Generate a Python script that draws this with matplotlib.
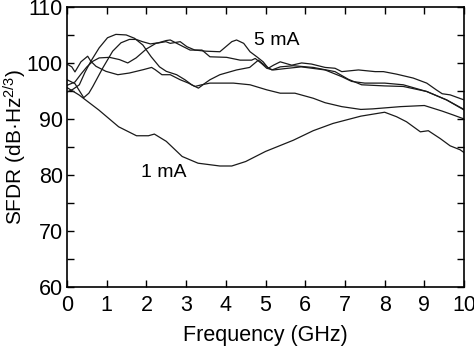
import matplotlib
matplotlib.use("Agg")
import matplotlib.pyplot as plt
from matplotlib.ticker import MultipleLocator

plt.rcParams["font.family"] = ["Liberation Sans", "DejaVu Sans"]
plt.rcParams["mathtext.default"] = "regular"

# SFDR traces (GHz, dB*Hz^2/3)
freq_1ma = [0, 0.3, 0.8, 1.3, 1.75, 2.05, 2.2, 2.5, 2.9, 3.3, 3.85, 4.15, 4.5, 5.0,
            5.7, 6.2, 6.7, 7.4, 8.0, 8.3, 8.55, 8.9, 9.1, 9.4, 9.65, 9.9, 10]
sfdr_1ma = [95.6, 94.3, 91.6, 88.6, 87.0, 87.0, 87.3, 86.0, 83.3, 82.1, 81.6, 81.6, 82.4, 84.2,
            86.2, 87.9, 89.2, 90.5, 91.2, 90.4, 89.5, 87.7, 87.9, 86.5, 85.2, 84.5, 84.0]

freq_b = [0, 0.12, 0.2, 0.35, 0.52, 0.6, 0.73, 0.98, 1.28, 1.57, 1.92, 2.13, 2.22, 2.39, 2.6,
          2.85, 3.06, 3.22, 3.39, 3.6, 4.19, 4.61, 5.03, 5.37, 5.74, 6.2, 6.5, 6.92, 7.4, 7.7,
          8.4, 9.0, 9.45, 9.73, 10]
sfdr_b = [99.8, 99.3, 98.4, 100.2, 101.2, 100.3, 99.4, 98.5, 97.9, 98.2, 98.8, 99.2, 98.8, 97.9, 97.9,
          97.0, 96.4, 95.8, 96.1, 96.4, 96.4, 96.1, 95.2, 94.6, 94.6, 93.7, 92.9, 92.2, 91.7, 91.8,
          92.2, 92.4, 91.4, 90.7, 90.0]

freq_c = [0, 0.15, 0.31, 0.45, 0.6, 0.81, 1.02, 1.23, 1.49, 1.7, 1.91, 2.12, 2.33, 2.5, 2.76,
          2.97, 3.14, 3.31, 3.48, 3.6, 3.85, 4.27, 4.6, 4.82, 5.03, 5.16, 5.37, 5.7, 6.2, 6.75,
          7.08, 7.42, 8.0, 8.47, 9.06, 9.56, 10]
sfdr_c = [94.8, 95.3, 96.1, 98.3, 100.3, 102.7, 104.5, 105.1, 105.0, 104.4, 103.2, 101.1, 99.3, 98.5, 97.9,
          97.0, 96.1, 95.5, 96.4, 97.0, 97.9, 98.75, 99.2, 100.5, 99.3, 98.75, 99.3, 99.5, 99.2, 98.45,
          97.1, 96.1, 95.9, 95.8, 94.9, 93.4, 91.6]

freq_d = [0, 0.2, 0.42, 0.55, 0.65, 0.9, 1.15, 1.36, 1.57, 1.74, 1.9, 2.1, 2.3, 2.5, 2.6,
          2.93, 3.1, 3.4, 3.6, 4.02, 4.36, 4.65, 4.74, 4.9, 5.03, 5.2, 5.5, 5.9, 6.5, 6.92,
          7.17, 7.5, 8.0, 8.47, 9.06, 9.56, 10]
sfdr_d = [97.0, 96.3, 93.8, 94.6, 95.8, 99.1, 102.1, 103.6, 104.2, 104.2, 103.8, 103.4, 103.6, 104.0, 104.1,
          102.9, 102.3, 102.3, 101.1, 101.0, 100.5, 100.5, 100.8, 99.9, 99.05, 98.75, 99.0, 99.3, 98.75, 97.55,
          96.7, 96.4, 96.4, 96.1, 94.9, 93.4, 91.7]

freq_5ma = [0, 0.2, 0.35, 0.5, 0.65, 0.81, 1.07, 1.32, 1.53, 1.74, 2.0, 2.24, 2.49, 2.6, 2.85,
            3.02, 3.22, 3.5, 3.85, 4.15, 4.27, 4.45, 4.61, 4.78, 4.94, 5.07, 5.2, 5.37, 5.66, 5.91,
            6.16, 6.5, 6.75, 6.92, 7.34, 7.76, 7.97, 8.3, 8.72, 9.06, 9.3, 9.45, 9.65, 10]
sfdr_5ma = [96.0, 96.6, 98.0, 99.3, 100.3, 100.9, 101.0, 100.6, 100.0, 100.9, 102.5, 103.5, 103.8, 103.5, 103.8,
            102.9, 102.3, 102.1, 102.0, 103.8, 104.1, 103.5, 102.0, 101.1, 100.2, 99.05, 99.6, 100.2, 99.6, 100.0,
            99.8, 99.2, 99.05, 98.45, 98.75, 98.45, 98.45, 98.0, 97.3, 96.4, 95.2, 94.5, 94.3, 93.4]

traces = [(freq_1ma, sfdr_1ma), (freq_b, sfdr_b), (freq_c, sfdr_c),
          (freq_d, sfdr_d), (freq_5ma, sfdr_5ma)]


def figure():
    fig = plt.figure(figsize=(4.74, 3.47), dpi=100)
    ax = fig.add_axes([0.1414, 0.173, 0.8376, 0.807])

    for f, s in traces:
        ax.plot(f, s, color="#1a1a1a", lw=0.9)

    ax.text(5.27, 104.0, "5 mA", fontsize=14, ha="center", va="center")
    ax.text(2.44, 80.4, "1 mA", fontsize=14, ha="center", va="center")

    ax.set_xlim(0, 10)
    ax.set_ylim(60, 110)
    ax.xaxis.set_major_locator(MultipleLocator(1))
    ax.yaxis.set_major_locator(MultipleLocator(10))
    ax.yaxis.set_minor_locator(MultipleLocator(5))
    ax.tick_params(which="both", direction="in", top=True, right=True,
                   length=5, width=1, labelsize=15.5)
    ax.tick_params(axis="x", pad=6)
    ax.tick_params(axis="y", pad=3)
    for sp in ax.spines.values():
        sp.set_linewidth(1.2)

    ax.set_xlabel("Frequency (GHz)", fontsize=15.5, labelpad=6)
    ax.set_ylabel("SFDR (dB\u00b7Hz$^{2/3}$)", fontsize=15)
    ax.yaxis.set_label_coords(-0.097, 0.5)

    fig.savefig("out.png", dpi=100)


if __name__ == "__main__":
    figure()
